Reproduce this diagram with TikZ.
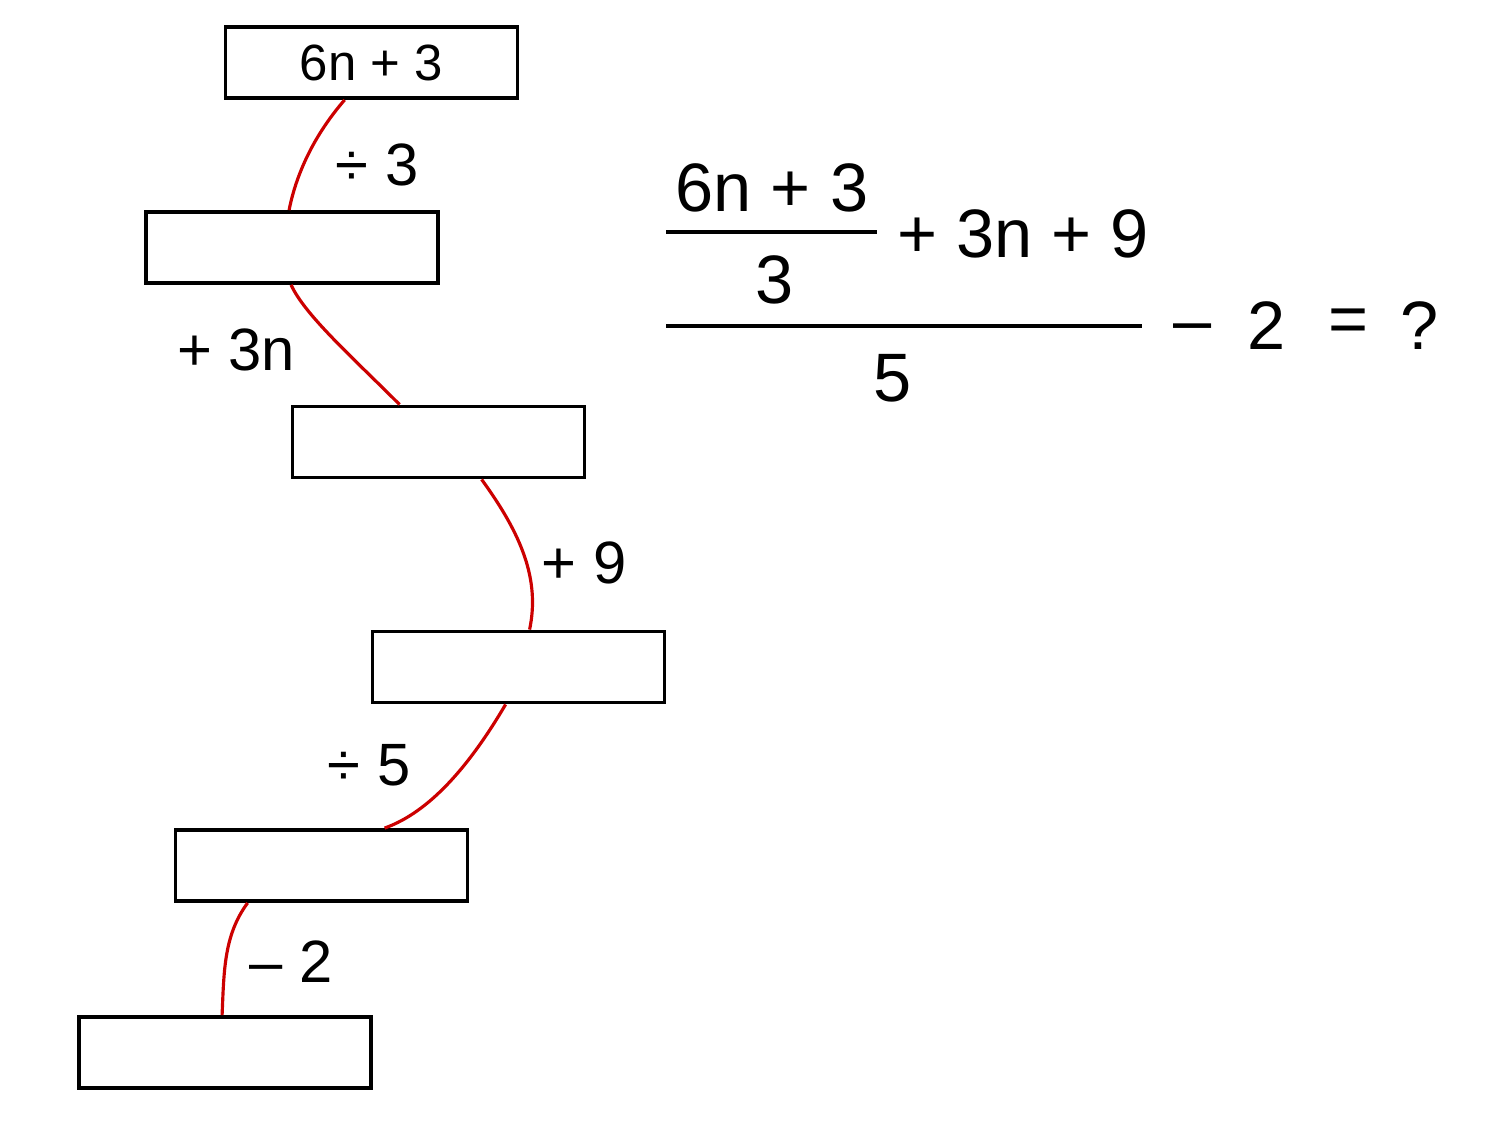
\documentclass[tikz,border=0pt]{standalone}
\usepackage{fontspec}
\setmainfont{Liberation Sans}
\usetikzlibrary{calc}
\begin{document}
\begin{tikzpicture}[x=0.02cm,y=-0.02cm,
  bx/.style={draw,line width=2.2pt,minimum width=5.84cm,minimum height=1.42cm,inner sep=0pt,font=\fontsize{29}{34}\selectfont},
  lab/.style={inner sep=0pt,font=\fontsize{34}{38}\selectfont},
  big/.style={inner sep=0pt,font=\fontsize{39}{44}\selectfont},
  link/.style={draw=red!80!black,line width=1.8pt}]
\useasboundingbox (0,0) rectangle (1500,1125);
\node[bx] (b1) at (371.5,62.5) {6n + 3};
\node[bx] (b2) at (292,247.5) {};
\node[bx] (b3) at (438.5,442) {};
\node[bx] (b4) at (518.5,667) {};
\node[bx] (b5) at (321.5,865.5) {};
\node[bx] (b6) at (225,1052.5) {};
\draw[link] ($(b1.south west)+(121,0)$) .. controls (310,140) and (295,180) .. ($(b2.north west)+(145,0)$);
\draw[link] ($(b2.south west)+(147,0)$) .. controls (305,315) and (350,355) .. ($(b3.north west)+(109,0)$);
\draw[link] ($(b3.south west)+(191,0)$) .. controls (522,535) and (540,580) .. ($(b4.north west)+(159,0)$);
\draw[link] ($(b4.south west)+(135,0)$) .. controls (470,765) and (430,812) .. ($(b5.north west)+(211,0)$);
\draw[link] ($(b5.south west)+(74,0)$) .. controls (224,935) and (224,970) .. ($(b6.north west)+(145,0)$);
\node[lab] (l1) at (377,165) {÷ 3};
\node[lab] (l2) at (236,350) {+ 3n};
\node[lab] (l3) at (584,563) {+ 9};
\node[lab] (l4) at (369,765) {÷ 5};
\node[lab] (l5) at (291,962) {– 2};
\node[big] (n1) at (772,188) {6n + 3};
\node[big] (n2) at (775,280) {3};
\node[big] (n3) at (1023,234) {+ 3n + 9};
\node[big] (n4) at (893,378) {5};
\node[big] (n5) at (1193,334) {–};
\node[big] (n6) at (1267,326) {2};
\node[big] (n7) at (1348,326) {=};
\node[big] (n8) at (1420,326) {?};
\coordinate (f1a) at (666,232); \coordinate (f1b) at (877,232);
\coordinate (f2a) at (666,326); \coordinate (f2b) at (1142,326);
\draw[line width=2.2pt] (f1a) -- (f1b);
\draw[line width=2.2pt] (f2a) -- (f2b);
\end{tikzpicture}
\end{document}
